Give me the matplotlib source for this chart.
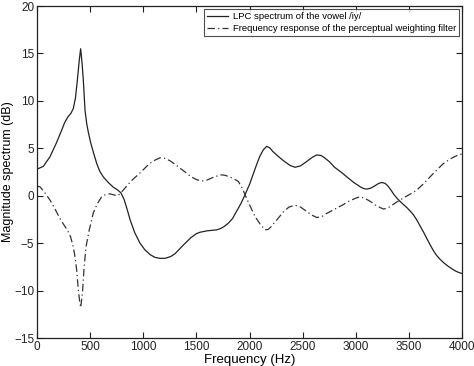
import matplotlib
matplotlib.use("Agg")
import matplotlib.pyplot as plt

plt.rcParams['font.family'] = ['Liberation Sans', 'DejaVu Sans']

# LPC spectrum of the vowel /iy/ (Hz, dB)
lpc_freq = [0, 60, 122, 180, 232, 260, 290, 320, 342, 362, 380, 398, 411, 424, 436, 452, 468,
            483, 505, 530, 562, 590, 623, 670, 718, 760, 790, 820, 850, 875, 920, 969, 1015,
            1063, 1110, 1158, 1205, 1260, 1300, 1377, 1450, 1500, 1534, 1600, 1690, 1730, 1760,
            1800, 1840, 1880, 1920, 1957, 2000, 2035, 2070, 2098, 2130, 2161, 2190, 2220, 2270,
            2318, 2380, 2428, 2480, 2530, 2590, 2632, 2670, 2700, 2750, 2800, 2860, 2914, 2980,
            3040, 3075, 3103, 3140, 3180, 3215, 3244, 3275, 3300, 3330, 3360, 3390, 3416,
            3450, 3480, 3510, 3541, 3570, 3600, 3635, 3667, 3700, 3730, 3760, 3792, 3830,
            3870, 3910, 3940, 3970, 4000]
lpc_db = [2.8, 3.1, 4.1, 5.5, 6.9, 7.7, 8.3, 8.7, 9.2, 10.3, 12.2, 14.3, 15.5, 14.0, 12.2, 9.0, 7.6,
          6.7, 5.6, 4.6, 3.4, 2.6, 2.0, 1.4, 0.9, 0.6, 0.3, -0.4, -1.5, -2.5, -3.9, -5.0, -5.7,
          -6.2, -6.5, -6.6, -6.6, -6.4, -6.1, -5.2, -4.4, -4.0, -3.85, -3.7, -3.6, -3.45, -3.25,
          -2.9, -2.4, -1.6, -0.8, 0.1, 1.2, 2.3, 3.4, 4.2, 4.85, 5.2, 5.05, 4.65, 4.15,
          3.7, 3.2, 3.0, 3.15, 3.55, 4.05, 4.3, 4.25, 4.05, 3.6, 3.0, 2.5, 2.0, 1.4,
          0.95, 0.75, 0.7, 0.8, 1.05, 1.3, 1.4, 1.3, 1.05, 0.6, 0.1, -0.3, -0.6,
          -0.95, -1.25, -1.6, -2.0, -2.5, -3.1, -3.8, -4.5, -5.2, -5.8, -6.3, -6.7, -7.1,
          -7.45, -7.75, -7.95, -8.1, -8.2]

# Frequency response of the perceptual weighting filter (Hz, dB)
pw_freq = [0, 28, 75, 122, 170, 216, 255, 285, 315, 342, 360, 373, 389, 400, 411, 422, 430, 442,
           461, 492, 530, 570, 609, 650, 687, 720, 750, 775, 797, 850, 900, 969, 1010, 1050, 1100,
           1158, 1200, 1250, 1300, 1346, 1400, 1450, 1500, 1550, 1600, 1650, 1700, 1738, 1770,
           1810, 1850, 1895, 1935, 1973, 2010, 2052, 2100, 2146, 2175, 2200, 2260, 2318, 2370,
           2428, 2480, 2530, 2580, 2632, 2680, 2720, 2770, 2820, 2880, 2930, 2990, 3040, 3090,
           3150, 3200, 3259, 3300, 3340, 3380, 3416, 3460, 3500, 3540, 3573, 3640, 3699, 3760,
           3824, 3870, 3900, 3935, 3965, 4000]
pw_db = [1.0, 0.95, 0.3, -0.45, -1.4, -2.4, -3.1, -3.6, -4.3, -5.4, -6.6, -7.8, -9.9, -11.0, -11.8,
         -10.8, -9.9, -7.8, -5.4, -3.6, -1.8, -0.8, -0.1, 0.15, 0.2, 0.1, 0.0, 0.15, 0.4, 1.1, 1.7,
         2.4, 2.85, 3.3, 3.7, 4.0, 3.95, 3.7, 3.3, 2.9, 2.45, 2.0, 1.7, 1.55, 1.65, 1.9, 2.1, 2.2,
         2.15, 2.0, 1.8, 1.5, 0.7, -0.3, -1.2, -2.2, -3.0, -3.6, -3.55, -3.3, -2.5, -1.7, -1.2,
         -1.0, -1.2, -1.6, -2.0, -2.3, -2.2, -1.9, -1.6, -1.3, -0.95, -0.6, -0.3, -0.1, -0.3,
         -0.7, -1.1, -1.4, -1.3, -1.0, -0.7, -0.45, -0.15, 0.1, 0.35, 0.6, 1.3, 2.0, 2.7,
         3.4, 3.75, 3.95, 4.15, 4.3, 4.4]

x_ticks = [0, 500, 1000, 1500, 2000, 2500, 3000, 3500, 4000]
y_ticks = [-15, -10, -5, 0, 5, 10, 15, 20]

fig = plt.figure(figsize=(4.74, 3.66), dpi=100)
ax = fig.add_axes([0.078, 0.0765, 0.897, 0.907])

ax.plot(lpc_freq, lpc_db, color='#222222', linewidth=0.9, linestyle='-',
        label='LPC spectrum of the vowel /iy/')
ax.plot(pw_freq, pw_db, color='#333333', linewidth=0.9, linestyle=(0, (6, 2.5, 1, 2.5)),
        label='Frequency response of the perceptual weighting filter')

ax.set_xlim(0, 4000)
ax.set_ylim(-15, 20)
ax.set_xticks(x_ticks)
ax.set_yticks(y_ticks)
ax.set_yticklabels(['\u221215', '\u221210', '\u22125', '0', '5', '10', '15', '20'])
ax.tick_params(direction='in', top=True, right=True, labelsize=8.5, length=4, width=0.8,
               pad=2, colors='#222222')
for s in ax.spines.values():
    s.set_linewidth(0.9)
    s.set_color('#222222')

ax.set_xlabel('Frequency (Hz)', fontsize=9.5, labelpad=1)
ax.set_ylabel('Magnitude spectrum (dB)', fontsize=9)
ax.yaxis.set_label_coords(-0.054, 0.5)

leg = ax.legend(loc='upper right', fontsize=6.8, frameon=True, fancybox=False,
                edgecolor='#222222', borderpad=0.35, handlelength=2.2,
                labelspacing=0.3, borderaxespad=0.3, handletextpad=0.5)
leg.get_frame().set_linewidth(0.8)

fig.savefig('out.png', dpi=100)
